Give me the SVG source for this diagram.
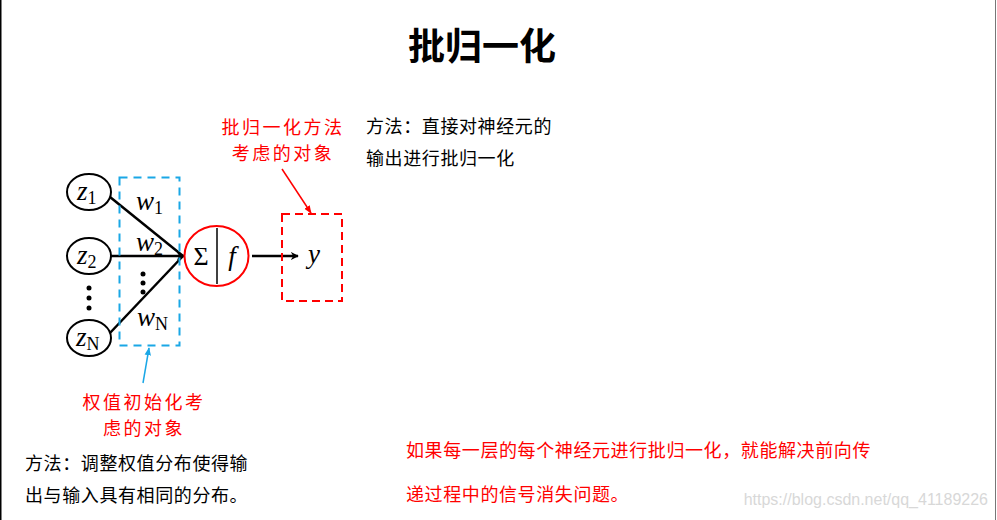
<svg xmlns="http://www.w3.org/2000/svg" width="997" height="520" viewBox="0 0 997 520">
<defs>
<marker id="ahk" viewBox="0 0 10 10" refX="9" refY="5" markerWidth="8" markerHeight="8" orient="auto" markerUnits="userSpaceOnUse"><path d="M0,0 L10,5 L0,10 L3,5 z" fill="#000"/></marker>
<marker id="ahr" viewBox="0 0 10 10" refX="9" refY="5" markerWidth="8" markerHeight="8" orient="auto" markerUnits="userSpaceOnUse"><path d="M0,1 L10,5 L0,9 z" fill="#ff0000"/></marker>
<marker id="ahb" viewBox="0 0 10 10" refX="9" refY="5" markerWidth="8" markerHeight="8" orient="auto" markerUnits="userSpaceOnUse"><path d="M0,1 L10,5 L0,9 z" fill="#1aa7e6"/></marker>
</defs>
<style>
.cn{font-family:"Noto Sans CJK SC","Liberation Sans",sans-serif;font-size:18px;letter-spacing:0.6px}
.red{fill:#ff0000}
.blk{fill:#000}
.lab{font-family:"Noto Sans CJK SC","Liberation Sans",sans-serif;font-size:18px;letter-spacing:2.5px;fill:#ff0000}
.m{font-family:"Liberation Serif","DejaVu Serif",serif;font-style:italic;font-size:27px;fill:#000}
.sub{font-style:normal;font-size:18px}
.node{fill:#fff;stroke:#000;stroke-width:2}
.edge{stroke:#000;stroke-width:2.5;fill:none}
</style>
<rect width="997" height="520" fill="#fff"/>
<line x1="0.75" y1="0" x2="0.75" y2="520" stroke="#000" stroke-width="1.5"/>
<line x1="995.5" y1="0" x2="995.5" y2="520" stroke="#777" stroke-width="1"/>

<text x="482" y="60" text-anchor="middle" style="font-family:'Noto Sans CJK SC',sans-serif;font-weight:bold;font-size:37px">批归一化</text>

<g id="connectors">
<line class="edge" x1="110" y1="197" x2="183" y2="256"/>
<line class="edge" x1="111" y1="256" x2="184" y2="256" marker-end="url(#ahk)"/>
<line class="edge" x1="109" y1="334" x2="183" y2="256"/>
<line class="edge" x1="252" y1="256" x2="298" y2="256" marker-end="url(#ahk)"/>
<line x1="282" y1="169" x2="311" y2="213" stroke="#ff0000" stroke-width="1.5" marker-end="url(#ahr)"/>
<line x1="143" y1="383" x2="149" y2="348" stroke="#1aa7e6" stroke-width="1.5" marker-end="url(#ahb)"/>
</g>

<g id="z1"><ellipse class="node" cx="89" cy="192" rx="22" ry="18"/><text class="m" x="77" y="200">z<tspan class="sub" dy="4">1</tspan></text></g>
<g id="z2"><ellipse class="node" cx="89" cy="256" rx="22" ry="18"/><text class="m" x="77" y="264">z<tspan class="sub" dy="4">2</tspan></text></g>
<g id="zdots" fill="#000"><circle cx="89" cy="288" r="2.5"/><circle cx="89" cy="298" r="2.5"/><circle cx="89" cy="308" r="2.5"/></g>
<g id="zN"><ellipse class="node" cx="89" cy="338" rx="22" ry="18"/><text class="m" x="76" y="346">z<tspan class="sub" dy="4">N</tspan></text></g>

<g id="weights">
<rect x="119.5" y="177.5" width="60" height="168" fill="none" stroke="#1aa7e6" stroke-width="2" stroke-dasharray="8,6"/>
<text class="m" x="136" y="210">w<tspan class="sub" dy="4">1</tspan></text>
<text class="m" x="136" y="251">w<tspan class="sub" dy="4">2</tspan></text>
<g fill="#000"><circle cx="143" cy="274" r="2.5"/><circle cx="143" cy="283" r="2.5"/><circle cx="143" cy="292" r="2.5"/></g>
<text class="m" x="137" y="326">w<tspan class="sub" dy="4">N</tspan></text>
</g>

<g id="neuron">
<ellipse cx="216.5" cy="256" rx="32" ry="30" fill="#fff" stroke="#ff0000" stroke-width="2"/>
<line x1="217" y1="228" x2="217" y2="284" stroke="#000" stroke-width="1.5"/>
<text x="201" y="265" text-anchor="middle" style="font-family:'Liberation Serif',serif;font-size:26px">Σ</text>
<text class="m" x="232" y="265" text-anchor="middle">f</text>
</g>

<g id="output">
<rect x="282" y="214" width="60" height="87" fill="none" stroke="#ff0000" stroke-width="2" stroke-dasharray="8,5"/>
<text class="m" x="314" y="263" text-anchor="middle">y</text>
</g>

<g id="bn-label">
<text class="lab" x="283" y="134" text-anchor="middle">批归一化方法</text>
<text class="lab" x="283" y="160" text-anchor="middle">考虑的对象</text>
</g>
<g id="bn-method">
<text class="cn blk" x="366" y="133">方法：直接对神经元的</text>
<text class="cn blk" x="366" y="165">输出进行批归一化</text>
</g>
<g id="init-label">
<text class="lab" x="144" y="409" text-anchor="middle">权值初始化考</text>
<text class="lab" x="144" y="435" text-anchor="middle">虑的对象</text>
</g>
<g id="init-method">
<text class="cn blk" x="25" y="470">方法：调整权值分布使得输</text>
<text class="cn blk" x="25" y="502">出与输入具有相同的分布。</text>
</g>
<g id="conclusion">
<text class="cn red" x="406" y="457">如果每一层的每个神经元进行批归一化，就能解决前向传</text>
<text class="cn red" x="406" y="501">递过程中的信号消失问题。</text>
</g>
<text x="988" y="505" text-anchor="end" style="font-family:'Liberation Sans',sans-serif;font-size:16px;fill:#d8d8d8">https://blog.csdn.net/qq_41189226</text>
</svg>
